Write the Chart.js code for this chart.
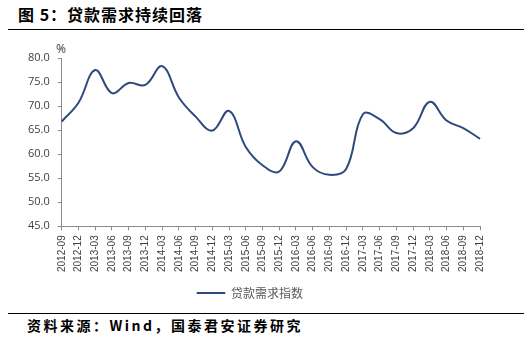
<!DOCTYPE html>
<html>
<head>
<meta charset="utf-8">
<script src="https://cdn.jsdelivr.net/npm/chart.js@4/dist/chart.umd.min.js"></script>
<style>
  html, body { margin: 0; padding: 0; background: #fff; }
  #page { position: relative; width: 524px; height: 343px; overflow: hidden; }
  .title { position: absolute; left: 18px; top: 2px; font: bold 16px "Noto Sans CJK SC", sans-serif; letter-spacing: 1px; color: #000; }
  .rule { position: absolute; left: 8px; right: 0; height: 1px; background: #000; }
  .unit { position: absolute; left: 56px; top: 40px; font: 12px "Open Sans", sans-serif; color: #404040; }
  .source { position: absolute; left: 27px; top: 315px; font: bold 14px "Noto Sans CJK SC", sans-serif; letter-spacing: 2.5px; color: #000; }
  #wrap { position: absolute; left: 0; top: 37px; width: 524px; height: 272px; }
</style>
</head>
<body>
<div id="page">
  <div class="title">图 5：贷款需求持续回落</div>
  <div class="rule" style="top:29px"></div>
  <div class="unit">%</div>
  <div id="wrap"><canvas id="chartDemanda"></canvas></div>
  <div class="rule" style="top:313px"></div>
  <div class="source">资料来源：Wind，国泰君安证券研究</div>
</div>
<script>
// 季度标签与贷款需求指数
const quarters = ["2012-09","2012-12","2013-03","2013-06","2013-09","2013-12","2014-03","2014-06","2014-09","2014-12",
                  "2015-03","2015-06","2015-09","2015-12","2016-03","2016-06","2016-09","2016-12","2017-03","2017-06",
                  "2017-09","2017-12","2018-03","2018-06","2018-09","2018-12"];
const demandIndex = [66.8, 70.7, 77.5, 72.7, 74.8, 74.4, 78.3, 71.8, 67.8, 64.9,
                     69.0, 61.5, 57.7, 56.4, 62.7, 57.3, 55.7, 56.9, 68.3, 67.3,
                     64.4, 65.4, 70.9, 67.0, 65.4, 63.2];
const seriesName = "贷款需求指数";
const yMin = 45, yMax = 80, yStep = 5;

const lineColor = "#2E4A7D";
const axisColor = "#8C8C8C";

new Chart(document.getElementById('chartDemanda'), {
    type: 'line',
    data: { labels: quarters, datasets: [{
        label: seriesName, data: demandIndex,
        borderColor: lineColor, backgroundColor: lineColor,
        borderWidth: 2, pointRadius: 0, tension: 0.4, fill: false
    }]},
    options: {
        responsive: true, maintainAspectRatio: false, animation: false,
        layout: { padding: { top: 21, right: 44, left: 20, bottom: 0 } },
        plugins: {
            legend: {
                position: 'bottom',
                labels: {
                    boxWidth: 28, boxHeight: 1, padding: 10, color: '#595959',
                    font: { family: '"Noto Sans CJK SC", sans-serif', size: 12 },
                    // 图例只画一条细线
                    generateLabels: chart => Chart.defaults.plugins.legend.labels.generateLabels(chart)
                        .map(l => Object.assign(l, { lineWidth: 1 }))
                }
            },
            tooltip: { enabled: false }
        },
        scales: {
            x: {
                offset: false,
                border: { color: axisColor, width: 1 },
                grid: { display: true, drawOnChartArea: false, drawTicks: true, tickLength: 4, color: axisColor },
                ticks: { autoSkip: false, minRotation: 90, maxRotation: 90, padding: 5, color: '#404040',
                         font: { family: '"Liberation Sans", Arial, sans-serif', size: 10 } }
            },
            y: {
                min: yMin, max: yMax,
                border: { color: axisColor, width: 1 },
                grid: { display: true, drawOnChartArea: false, drawTicks: true, tickLength: 4, color: axisColor },
                ticks: { stepSize: yStep, padding: 8, color: '#404040',
                         callback: v => v.toFixed(1),
                         font: { family: '"Open Sans", sans-serif', size: 11 } }
            }
        }
    }
});
</script>
</body>
</html>
